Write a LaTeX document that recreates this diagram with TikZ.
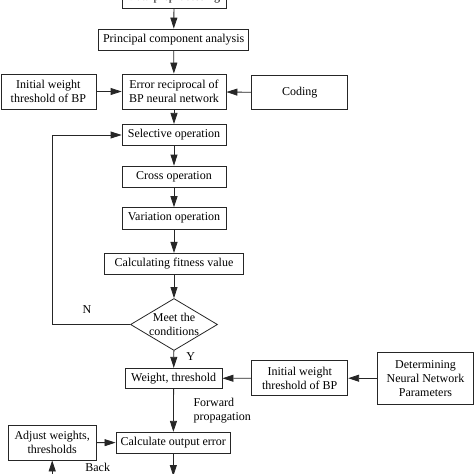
\documentclass[tikz,border=0pt]{standalone}
\usepackage{fontspec}
\setmainfont{Liberation Serif}
\usetikzlibrary{arrows.meta,shapes.geometric}
\tikzset{
  fc box/.style={draw=black!85,line width=.8pt,inner sep=1pt,align=center},
  fc decision/.style={diamond,draw=black!85,line width=.8pt,inner sep=-6pt,align=center,
    minimum width=87,minimum height=52},
  fc line/.style={draw=black!85,line width=.8pt},
  fc arrow/.style={fc line,-{Triangle[length=11pt,width=7pt]}}
}

\begin{document}
\begin{tikzpicture}[x=1pt,y=-1pt,font=\fontsize{12}{14}\selectfont]
  \useasboundingbox (0,0) rectangle (474,474);
  \clip (0,0) rectangle (474,474);
  % main column
  \node[fc box,minimum width=104,minimum height=21] (data) at (174,-2.5) {Data preprocessing};
  \node[fc box,minimum width=150,minimum height=21] (pca) at (173.7,39.5) {Principal component analysis};
  \node[fc box,minimum width=104,minimum height=35] (err) at (174,91.5) {Error reciprocal of\\BP neural network};
  \node[fc box,minimum width=95,minimum height=35] (initA) at (48.4,91.5) {Initial weight\\threshold of BP};
  \node[fc box,minimum width=96,minimum height=34] (coding) at (299.7,92.7) {Coding};
  \node[fc box,minimum width=104,minimum height=21.4] (sel) at (174,135) {Selective operation};
  \node[fc box,minimum width=104,minimum height=21.4] (cross) at (174,176.7) {Cross operation};
  \node[fc box,minimum width=104,minimum height=21.4] (var) at (174,218.3) {Variation operation};
  \node[fc box,minimum width=138.7,minimum height=20.7] (fit) at (174,263.7) {Calculating fitness value};
  \node[fc decision] (dec) at (174,324.5) {Meet the\\conditions};
  \node[fc box,minimum width=96.7,minimum height=20] (wt) at (173.7,378.3) {Weight, threshold};
  \node[fc box,minimum width=96,minimum height=35] (initB) at (299.7,378.2) {Initial weight\\threshold of BP};
  \node[fc box,minimum width=95.6,minimum height=51.7] (det) at (425.5,378.2) {Determining\\Neural Network\\Parameters};
  \node[fc box,minimum width=114.7,minimum height=21] (calc) at (173.3,442.8) {Calculate output error};
  \node[fc box,minimum width=87.7,minimum height=35] (adj) at (52.2,442.5) {Adjust weights,\\thresholds};
  \coordinate (loop) at (52.3,324.5);
  \coordinate (down) at (173.3,476);
  \coordinate (up) at (52.2,490);
  % connectors
  \draw[fc arrow] (data) -- (pca);
  \draw[fc arrow] (pca) -- (err);
  \draw[fc arrow] (initA) -- (err);
  \draw[fc arrow] (coding) -- (err);
  \draw[fc arrow] (err) -- (sel);
  \draw[fc arrow] (sel) -- (cross);
  \draw[fc arrow] (cross) -- (var);
  \draw[fc arrow] (var) -- (fit);
  \draw[fc arrow] (fit) -- (dec);
  \draw[fc arrow] (dec.west) -- (loop) |- (sel.west);
  \draw[fc arrow] (dec) -- (wt);
  \draw[fc arrow] (det) -- (initB);
  \draw[fc arrow] (initB) -- (wt);
  \draw[fc arrow] (wt) -- (calc);
  \draw[fc arrow] (adj) -- (calc);
  \draw[fc arrow] (calc) -- (down);
  \draw[fc arrow] (up) -- (adj);
  % labels
  \node (lblN) at (87,309.3) {N};
  \node (lblY) at (190.7,357) {Y};
  \node[anchor=west,align=left] (lblFwd) at (190,411) {Forward\\propagation};
  \node (lblBack) at (97.7,467) {Back};
\end{tikzpicture}
\end{document}
